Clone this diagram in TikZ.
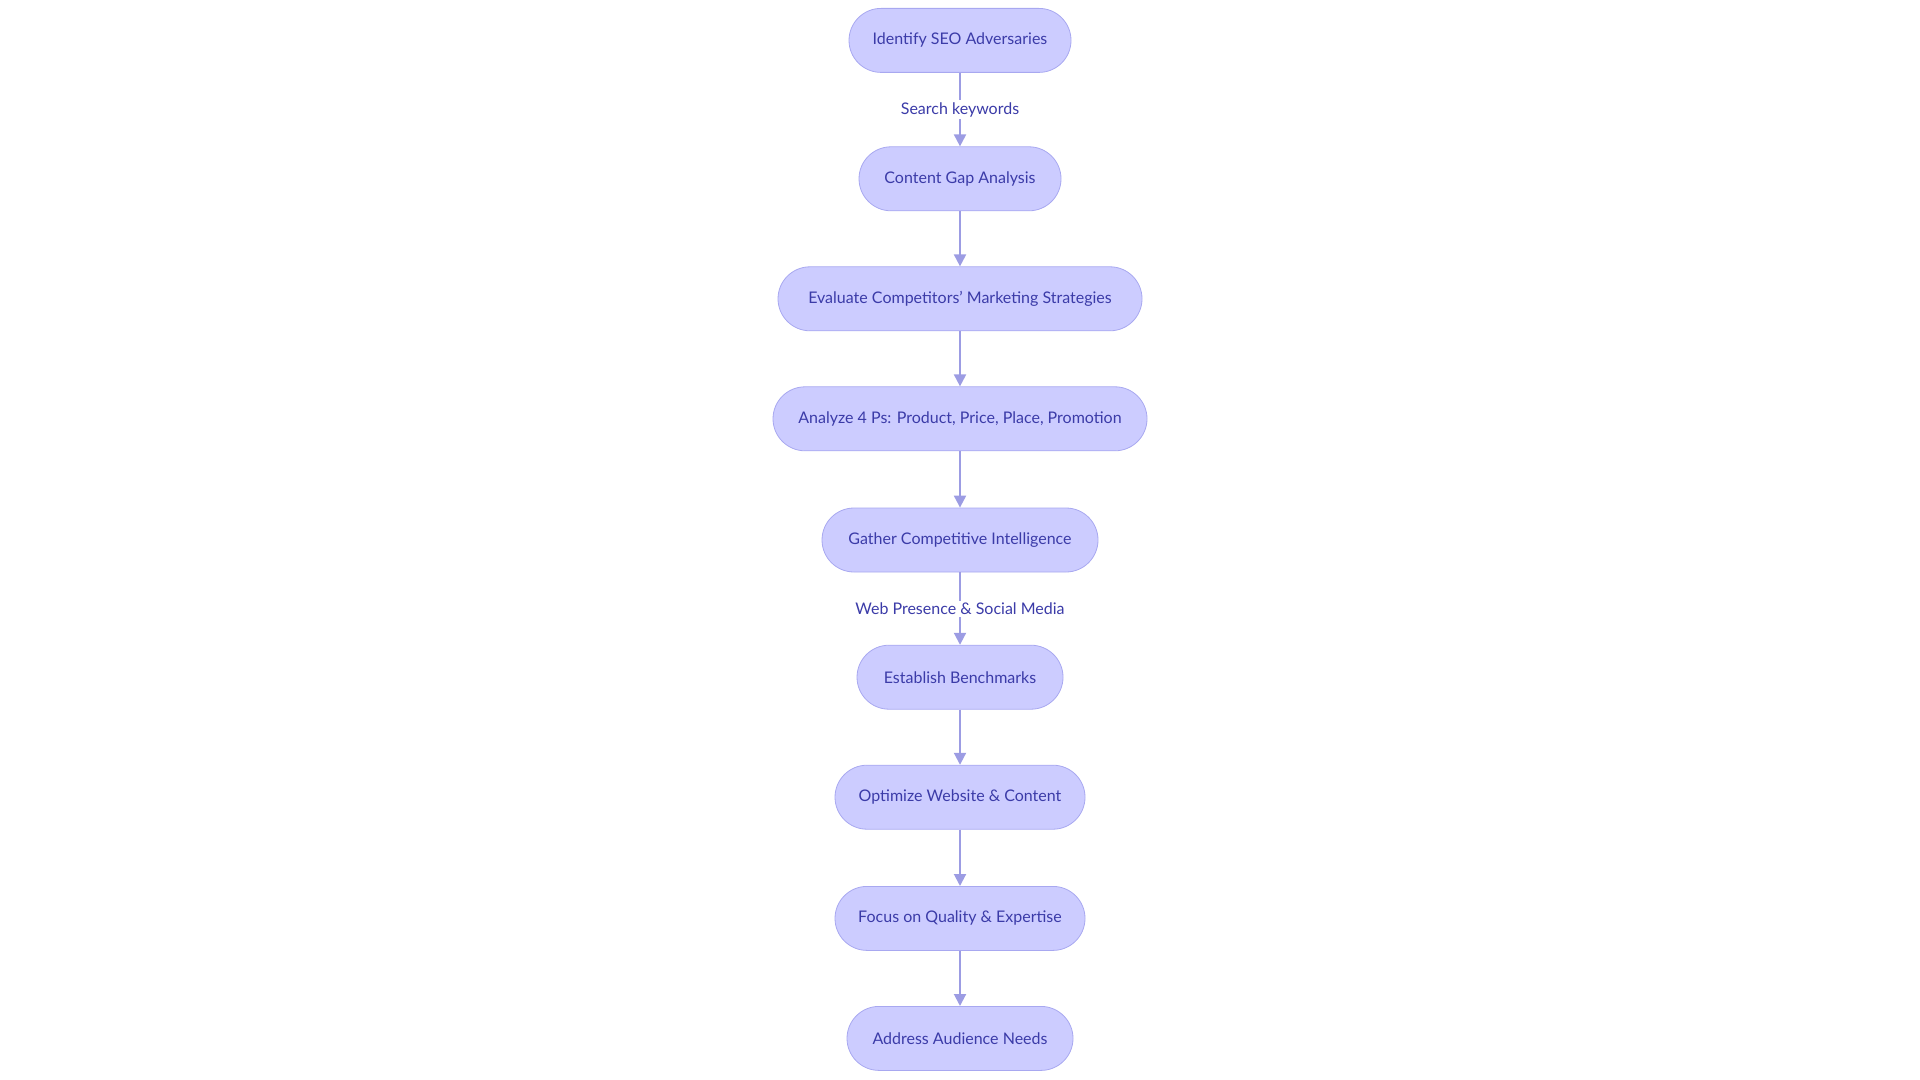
\documentclass[tikz,border=0pt]{standalone}
\usepackage{fontspec}
\setmainfont{Lato}
\usetikzlibrary{arrows.meta}
\definecolor{boxfill}{HTML}{CCCCFF}
\definecolor{boxline}{HTML}{A8A8F0}
\definecolor{boxtext}{HTML}{3B3BA8}
\definecolor{flowline}{HTML}{9C9CE3}
\tikzset{
    stepbox/.style={draw=boxline, fill=boxfill, text=boxtext, rounded corners=16pt,
        minimum height=32pt, inner sep=0pt, font=\fontsize{8}{10}\selectfont},
    flow/.style={draw=flowline, line width=1pt, -{Triangle[length=6pt,width=6pt]}},
    flowlabel/.style={fill=white, text=boxtext, font=\fontsize{8}{10}\selectfont, inner sep=1pt}
}
\begin{document}
\begin{tikzpicture}[x=0.5pt, y=-0.5pt]
    % --- Canvas ---
    \useasboundingbox (0,0) rectangle (1920,1080);

    % --- Steps ---
    \node[stepbox, minimum width=111pt] (identify) at (960,40.4) {Identify SEO Adversaries};
    \node[stepbox, minimum width=101pt] (gap) at (960,178.8) {Content Gap Analysis};
    \node[stepbox, minimum width=182pt] (evaluate) at (960,298.8) {Evaluate Competitors' Marketing Strategies};
    \node[stepbox, minimum width=187pt] (fourps) at (960,418.8) {Analyze 4 Ps: Product, Price, Place, Promotion};
    \node[stepbox, minimum width=138pt] (gather) at (960,540) {Gather Competitive Intelligence};
    \node[stepbox, minimum width=103pt] (bench) at (960,677.2) {Establish Benchmarks};
    \node[stepbox, minimum width=125pt] (optimize) at (960,797.2) {Optimize Website \& Content};
    \node[stepbox, minimum width=125pt] (quality) at (960,918.4) {Focus on Quality \& Expertise};
    \node[stepbox, minimum width=113pt] (audience) at (960,1038.4) {Address Audience Needs};

    % --- Connectors ---
    \draw[flow] (identify) -- node[flowlabel] {Search keywords} (gap);
    \draw[flow] (gap) -- (evaluate);
    \draw[flow] (evaluate) -- (fourps);
    \draw[flow] (fourps) -- (gather);
    \draw[flow] (gather) -- node[flowlabel] {Web Presence \& Social Media} (bench);
    \draw[flow] (bench) -- (optimize);
    \draw[flow] (optimize) -- (quality);
    \draw[flow] (quality) -- (audience);
\end{tikzpicture}
\end{document}
